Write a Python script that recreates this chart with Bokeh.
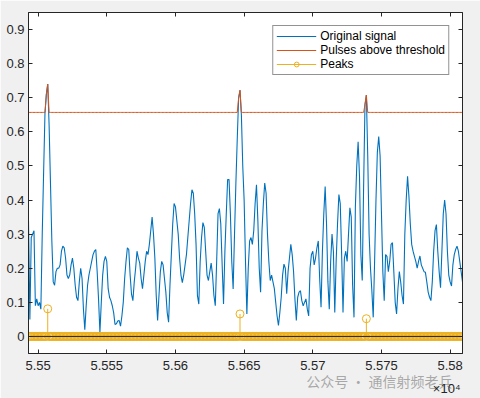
import numpy as np
from bokeh.plotting import figure
from bokeh.models import (Range1d, FixedTicker, LinearAxis, Span, Legend, LegendItem, Title)
from bokeh.embed import file_html
from bokeh.resources import INLINE

# ---------------- data ----------------
start_sample = 55493
signal = [
    0.34, 0.05, 0.29, 0.30, 0.31, 0.09, 0.11, 0.09, 0.10, 0.08,
    0.30, 0.48, 0.655, 0.71, 0.74, 0.62, 0.45, 0.28, 0.16, 0.15,
    0.19, 0.20, 0.20, 0.21, 0.25, 0.265, 0.26, 0.23, 0.18, 0.17,
    0.18, 0.21, 0.23, 0.20, 0.15, 0.115, 0.105, 0.16, 0.20, 0.17,
    0.08, 0.02, 0.09, 0.15, 0.18, 0.20, 0.22, 0.24, 0.25, 0.255,
    0.19, 0.11, 0.012, 0.10, 0.18, 0.22, 0.235, 0.22, 0.14, 0.115,
    0.105, 0.09, 0.07, 0.035, 0.037, 0.045, 0.047, 0.03, 0.06, 0.10,
    0.17, 0.22, 0.26, 0.255, 0.18, 0.124, 0.105, 0.16, 0.20, 0.25,
    0.23, 0.215, 0.17, 0.14, 0.18, 0.22, 0.25, 0.24, 0.27, 0.31,
    0.35, 0.30, 0.23, 0.12, 0.047, 0.12, 0.19, 0.22, 0.21, 0.17,
    0.13, 0.07, 0.042, 0.15, 0.24, 0.33, 0.39, 0.38, 0.34, 0.30,
    0.23, 0.18, 0.158, 0.18, 0.21, 0.24, 0.29, 0.34, 0.39, 0.43,
    0.42, 0.36, 0.27, 0.12, 0.095, 0.22, 0.29, 0.334, 0.32, 0.25,
    0.18, 0.164, 0.19, 0.215, 0.18, 0.12, 0.09, 0.22, 0.36, 0.375,
    0.33, 0.21, 0.095, 0.25, 0.36, 0.46, 0.46, 0.36, 0.22, 0.139,
    0.30, 0.45, 0.58, 0.70, 0.722, 0.65, 0.50, 0.40, 0.22, 0.066,
    0.20, 0.28, 0.29, 0.27, 0.31, 0.39, 0.445, 0.34, 0.20, 0.13,
    0.31, 0.39, 0.45, 0.42, 0.30, 0.22, 0.164, 0.18, 0.16, 0.14,
    0.10, 0.06, 0.032, 0.07, 0.115, 0.18, 0.212, 0.20, 0.125, 0.19,
    0.23, 0.27, 0.24, 0.19, 0.11, 0.047, 0.115, 0.13, 0.134, 0.105,
    0.09, 0.10, 0.11, 0.08, 0.06, 0.20, 0.24, 0.25, 0.21, 0.23,
    0.26, 0.28, 0.17, 0.086, 0.25, 0.36, 0.44, 0.33, 0.16, 0.08,
    0.22, 0.30, 0.25, 0.07, 0.22, 0.33, 0.416, 0.39, 0.24, 0.07,
    0.23, 0.25, 0.22, 0.30, 0.377, 0.35, 0.15, 0.056, 0.38, 0.50,
    0.571, 0.47, 0.24, 0.164, 0.44, 0.68, 0.708, 0.53, 0.30, 0.20,
    0.134, 0.056, 0.22, 0.40, 0.54, 0.586, 0.53, 0.36, 0.19, 0.105,
    0.24, 0.235, 0.19, 0.22, 0.27, 0.275, 0.19, 0.10, 0.066, 0.14,
    0.19, 0.16, 0.12, 0.095, 0.30, 0.40, 0.47, 0.41, 0.33, 0.27,
    0.25, 0.235, 0.22, 0.20, 0.22, 0.236, 0.21, 0.20, 0.19, 0.188,
    0.16, 0.13, 0.115, 0.105, 0.16, 0.25, 0.31, 0.328, 0.25, 0.19,
    0.143, 0.25, 0.36, 0.40, 0.36, 0.25, 0.18, 0.16, 0.148, 0.21,
    0.24, 0.255, 0.265, 0.25, 0.22, 0.19, 0.16,
]
threshold = 0.657
peak_samples = [55507, 55647, 55739]
peak_values = [0.081, 0.066, 0.052]

x_ticks = [55500, 55550, 55600, 55650, 55700, 55750, 55800]
x_tick_labels = ["5.55", "5.555", "5.56", "5.565", "5.57", "5.575", "5.58"]
y_ticks = [0, 0.1, 0.2, 0.3, 0.4, 0.5, 0.6, 0.7, 0.8, 0.9]
y_tick_labels = ["0", "0.1", "0.2", "0.3", "0.4", "0.5", "0.6", "0.7", "0.8", "0.9"]
x_exponent = "\u00d710\u2074"
watermark = "公众号 · 通信射频老兵"

# ---------------- derived ----------------
sig = np.array(signal)
samples = np.arange(start_sample, start_sample + len(sig))
pulses = np.maximum(sig, threshold)
stem_vals = np.zeros(len(sig))
for s, v in zip(peak_samples, peak_values):
    stem_vals[s - start_sample] = v

BLUE = "#0072BD"
ORANGE = "#D95319"
YELLOW = "#EDB120"
AX = "#262626"
FONT = "Liberation Sans"

p = figure(width=480, height=398,
           x_range=Range1d(samples[0], samples[-1]), y_range=Range1d(-0.05, 0.95),
           output_backend="svg", toolbar_location=None,
           min_border_left=28, min_border_right=18, min_border_top=12, min_border_bottom=45,
           x_axis_location=None, y_axis_location=None)
p.border_fill_color = "#f0f0f0"
p.background_fill_color = "white"
p.outline_line_color = AX
p.xgrid.visible = False
p.ygrid.visible = False

def style_axis(ax, labels=True):
    ax.axis_line_color = AX
    ax.major_tick_line_color = AX
    ax.major_tick_in = 4
    ax.major_tick_out = 0
    ax.minor_tick_line_color = None
    ax.major_label_text_font = FONT
    if labels:
        ax.major_label_text_color = AX
        ax.major_label_text_font_size = "13px"
    else:
        ax.major_label_text_color = None
        ax.major_label_text_font_size = "1px"
        ax.major_label_standoff = 0

bx = LinearAxis(ticker=FixedTicker(ticks=x_ticks),
                major_label_overrides={t: l for t, l in zip(x_ticks, x_tick_labels)})
style_axis(bx)
bx.major_label_standoff = 7
p.add_layout(bx, "below")
tx = LinearAxis(ticker=FixedTicker(ticks=x_ticks))
style_axis(tx, labels=False)
p.add_layout(tx, "above")
ly = LinearAxis(ticker=FixedTicker(ticks=y_ticks),
                major_label_overrides={t: l for t, l in zip(y_ticks, y_tick_labels)})
style_axis(ly)
ly.major_label_standoff = 4
p.add_layout(ly, "left")
ry = LinearAxis(ticker=FixedTicker(ticks=y_ticks))
style_axis(ry, labels=False)
p.add_layout(ry, "right")

r_sig = p.line(samples, sig, line_color=BLUE, line_width=1.1)
r_pul = p.line(samples, pulses, line_color=ORANGE, line_width=1)
r_stem = p.segment(x0=samples, y0=np.zeros(len(sig)), x1=samples, y1=stem_vals,
                   line_color=YELLOW, line_width=1)
r_mk = p.scatter(samples, stem_vals, marker="circle", size=8, fill_color=None,
                 line_color=YELLOW, line_width=1)
p.add_layout(Span(location=0, dimension="width", line_color=AX, line_width=1))

legend = Legend(items=[LegendItem(label="Original signal", renderers=[r_sig]),
                       LegendItem(label="Pulses above threshold", renderers=[r_pul]),
                       LegendItem(label="Peaks", renderers=[r_stem, r_mk])],
                location="top_right")
legend.margin = 13
legend.padding = 3
legend.spacing = 0
legend.glyph_width = 40
legend.glyph_height = 12
legend.label_height = 12
legend.label_standoff = 4
legend.label_text_font = FONT
legend.label_text_font_size = "12px"
legend.label_text_color = "black"
legend.border_line_color = AX
legend.border_line_width = 1
legend.background_fill_color = "white"
legend.background_fill_alpha = 1
p.add_layout(legend)

# watermark and x10^4 exponent below the axis
t_wm = Title(text=watermark, align="right", text_font="Noto Sans CJK SC",
             text_font_size="14px", text_font_style="normal", text_color="#9a9a9a",
             text_alpha=0.85, standoff=-7, offset=10)
p.add_layout(t_wm, "below")
t_exp = Title(text=x_exponent, align="right", text_font=FONT, text_font_size="13px",
              text_font_style="normal", text_color=AX, standoff=-17, offset=2)
p.add_layout(t_exp, "below")

open("out.html", "w").write(file_html(p, INLINE))
